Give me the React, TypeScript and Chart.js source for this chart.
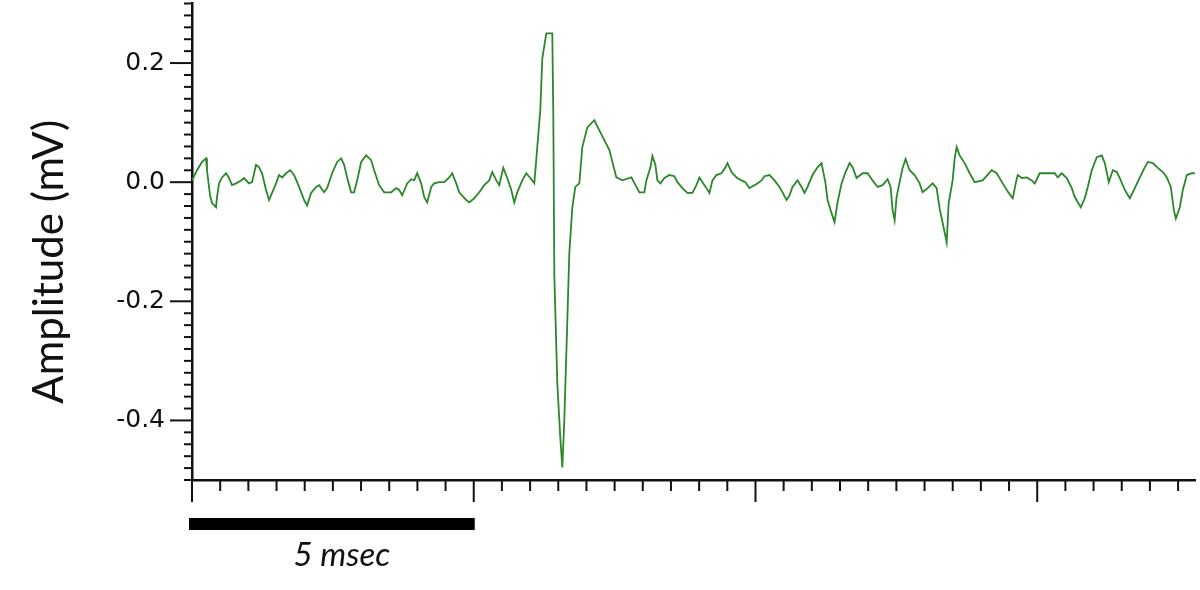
import React, { useEffect, useRef } from "react";
import { Chart, registerables } from "chart.js";

Chart.register(...registerables);

// Time (ms) and amplitude (mV) samples
const TIME_MS = [
  0, 0.089, 0.178, 0.249, 0.266, 0.32, 0.355, 0.426, 0.444, 0.48, 0.533, 0.604, 0.657, 0.71, 0.782, 0.87, 0.924,
  1.012, 1.066, 1.137, 1.19, 1.243, 1.314, 1.368, 1.421, 1.492, 1.545, 1.599, 1.67, 1.741, 1.812, 1.901, 1.989,
  2.043, 2.114, 2.202, 2.256, 2.345, 2.398, 2.487, 2.575, 2.647, 2.7, 2.753, 2.824, 2.877, 2.931, 3.002, 3.091,
  3.179, 3.233, 3.321, 3.41, 3.535, 3.623, 3.677, 3.73, 3.819, 3.89, 3.943, 3.996, 4.067, 4.121, 4.174, 4.245,
  4.298, 4.387, 4.476, 4.565, 4.618, 4.689, 4.742, 4.867, 4.92, 5.009, 5.098, 5.187, 5.275, 5.329, 5.4, 5.453,
  5.524, 5.595, 5.666, 5.719, 5.773, 5.861, 5.932, 6.004, 6.075, 6.128, 6.181, 6.217, 6.288, 6.394, 6.412, 6.43,
  6.483, 6.536, 6.572, 6.607, 6.661, 6.696, 6.75, 6.803, 6.874, 6.927, 7.016, 7.14, 7.229, 7.407, 7.531, 7.638,
  7.797, 7.94, 8.028, 8.064, 8.135, 8.171, 8.224, 8.259, 8.313, 8.384, 8.472, 8.561, 8.615, 8.703, 8.792, 8.881,
  8.952, 9.005, 9.059, 9.13, 9.183, 9.236, 9.307, 9.396, 9.467, 9.503, 9.574, 9.663, 9.751, 9.822, 9.893, 9.982,
  10.036, 10.107, 10.16, 10.249, 10.337, 10.426, 10.48, 10.551, 10.604, 10.657, 10.746, 10.817, 10.87, 10.924,
  11.012, 11.101, 11.172, 11.243, 11.279, 11.35, 11.403, 11.456, 11.528, 11.599, 11.67, 11.723, 11.794, 11.901,
  11.989, 12.078, 12.167, 12.256, 12.345, 12.398, 12.433, 12.469, 12.504, 12.558, 12.611, 12.664, 12.735, 12.824,
  12.913, 12.966, 13.055, 13.144, 13.215, 13.268, 13.339, 13.393, 13.428, 13.499, 13.535, 13.57, 13.623, 13.712,
  13.801, 13.89, 14.032, 14.192, 14.281, 14.387, 14.494, 14.565, 14.618, 14.654, 14.725, 14.814, 14.902, 14.956,
  15.044, 15.168, 15.311, 15.364, 15.435, 15.524, 15.613, 15.666, 15.773, 15.844, 15.897, 15.968, 16.057, 16.146,
  16.199, 16.27, 16.341, 16.412, 16.465, 16.554, 16.643, 16.732, 16.821, 16.909, 16.963, 17.052, 17.14, 17.229,
  17.3, 17.371, 17.425, 17.46, 17.531, 17.584, 17.655, 17.744, 17.797,
];

const AMPLITUDE_MV = [
  0.003, 0.02, 0.034, 0.04, 0.02, -0.022, -0.035, -0.042, -0.025, -0.002, 0.008, 0.015, 0.007, -0.005, -0.002,
  0.003, 0.007, -0.002, 0.0, 0.029, 0.025, 0.015, -0.013, -0.03, -0.018, -0.002, 0.012, 0.008, 0.015, 0.02, 0.012,
  -0.008, -0.03, -0.039, -0.018, -0.008, -0.005, -0.017, -0.01, 0.015, 0.034, 0.04, 0.029, 0.008, -0.017, -0.017,
  0.003, 0.034, 0.045, 0.037, 0.02, -0.005, -0.017, -0.017, -0.01, -0.013, -0.022, -0.002, 0.005, 0.003, 0.015,
  -0.002, -0.025, -0.034, -0.008, -0.002, 0.0, 0.0, 0.008, 0.015, -0.002, -0.017, -0.03, -0.034, -0.027, -0.017,
  -0.005, 0.003, 0.017, 0.003, -0.005, 0.024, 0.007, -0.013, -0.034, -0.017, 0.003, 0.015, 0.007, -0.002, 0.059,
  0.121, 0.208, 0.25, 0.25, 0.113, -0.156, -0.338, -0.429, -0.479, -0.4, -0.232, -0.119, -0.042, -0.008, -0.002,
  0.059, 0.092, 0.104, 0.087, 0.054, 0.008, 0.003, 0.008, -0.017, -0.017, 0.003, 0.025, 0.044, 0.029, 0.003,
  -0.002, 0.007, 0.012, 0.01, 0.0, -0.01, -0.018, -0.018, -0.005, 0.008, 0.0, -0.01, -0.018, 0.003, 0.012, 0.015,
  0.025, 0.032, 0.017, 0.008, 0.003, 0.0, -0.01, -0.005, -0.002, 0.003, 0.01, 0.012, 0.003, -0.008, -0.017, -0.03,
  -0.022, -0.008, 0.003, -0.008, -0.018, -0.008, 0.012, 0.025, 0.032, -0.002, -0.03, -0.052, -0.067, -0.034,
  -0.002, 0.017, 0.032, 0.025, 0.007, 0.015, 0.015, 0.003, -0.008, -0.005, 0.005, -0.008, -0.047, -0.064, -0.025,
  0.0, 0.024, 0.039, 0.02, 0.012, -0.002, -0.017, -0.01, -0.002, -0.01, -0.044, -0.076, -0.101, -0.035, 0.003,
  0.04, 0.059, 0.045, 0.032, 0.015, 0.0, 0.003, 0.02, 0.015, -0.002, -0.018, -0.027, -0.002, 0.012, 0.007, 0.008,
  0.003, -0.002, 0.015, 0.015, 0.015, 0.008, 0.015, 0.007, -0.01, -0.025, -0.042, -0.027, -0.008, 0.02, 0.042,
  0.045, 0.032, 0.0, 0.02, 0.017, 0.007, -0.013, -0.027, -0.01, 0.008, 0.025, 0.034, 0.032, 0.024, 0.017, 0.008,
  -0.008, -0.047, -0.061, -0.042, -0.013, 0.012, 0.015, 0.015,
];

// Axis ranges and tick spacing
const X_MIN_MS = 0;
const X_MAX_MS = 17.8;
const X_MINOR_STEP_MS = 0.5;
const X_MAJOR_STEP_MS = 5;
const Y_MIN_MV = -0.5;
const Y_MAX_MV = 0.3;
const Y_MINOR_STEP_MV = 0.02;
const Y_MAJOR_STEP_MV = 0.2;

const Y_TITLE = "Amplitude (mV)";
const SCALE_BAR_MS = 5;
const SCALE_BAR_LABEL = "5 msec";

const isMultiple = (v: number, step: number) => Math.abs(v / step - Math.round(v / step)) < 1e-6;

const axisDecor = {
  id: "axisDecor",
  afterDraw(chart: any) {
    const { ctx, chartArea } = chart;
    const xs = chart.scales.x;
    const ys = chart.scales.y;
    ctx.save();
    ctx.strokeStyle = "#111";
    ctx.lineWidth = 2;
    ctx.lineCap = "butt";
    // x ticks (pointing down)
    xs.ticks.forEach((t: any) => {
      const px = xs.getPixelForValue(t.value);
      const len = isMultiple(t.value, X_MAJOR_STEP_MS) ? 22 : 11;
      ctx.beginPath();
      ctx.moveTo(px, chartArea.bottom);
      ctx.lineTo(px, chartArea.bottom + len);
      ctx.stroke();
    });
    // y ticks (pointing left)
    ys.ticks.forEach((t: any) => {
      const py = ys.getPixelForValue(t.value);
      const len = isMultiple(t.value, Y_MAJOR_STEP_MV) ? 22 : 8;
      ctx.beginPath();
      ctx.moveTo(chartArea.left, py);
      ctx.lineTo(chartArea.left - len, py);
      ctx.stroke();
    });
    // scale bar
    const x0 = xs.getPixelForValue(0);
    const x1 = xs.getPixelForValue(SCALE_BAR_MS);
    ctx.fillStyle = "#000";
    ctx.fillRect(x0 - 3, chartArea.bottom + 38, x1 - x0 + 4, 12);
    ctx.font = "italic 33px Lato";
    ctx.textAlign = "center";
    ctx.textBaseline = "alphabetic";
    ctx.fillStyle = "#111";
    ctx.fillText(SCALE_BAR_LABEL, (x0 + x1) / 2 + 9, chartArea.bottom + 86);
    // y axis title
    ctx.translate(63, (chartArea.top + chartArea.bottom) / 2 + 20);
    ctx.rotate(-Math.PI / 2);
    ctx.font = "42px Lato";
    ctx.fillStyle = "#111";
    ctx.fillText(Y_TITLE, 0, 0);
    ctx.restore();
  },
};

export default function App() {
  const ref = useRef<HTMLCanvasElement | null>(null);
  useEffect(() => {
    let chart: Chart | null = null;
    let cancelled = false;
    const make = () => {
      if (cancelled || !ref.current) return;
      const data = TIME_MS.map((t, i) => ({ x: t, y: AMPLITUDE_MV[i] }));
      chart = new Chart(ref.current, {
        type: "line",
        data: {
          datasets: [
            {
              data,
              borderColor: "#2a872a",
              borderWidth: 1.8,
              pointRadius: 0,
              tension: 0,
              fill: false,
            },
          ],
        },
        options: {
          animation: false,
          responsive: false,
          devicePixelRatio: 1,
          layout: { padding: { top: 3.5, right: 5, left: 0, bottom: 0 } },
          plugins: { legend: { display: false }, tooltip: { enabled: false } },
          scales: {
            x: {
              type: "linear",
              min: X_MIN_MS,
              max: X_MAX_MS,
              grid: { display: false, drawTicks: false },
              border: { display: true, color: "#111", width: 2.5 },
              ticks: { display: false, stepSize: X_MINOR_STEP_MS, includeBounds: false, autoSkip: false },
              afterFit: (s: any) => {
                s.height = 110;
                s.paddingLeft = 0;
                s.paddingRight = 0;
              },
            },
            y: {
              type: "linear",
              min: Y_MIN_MV,
              max: Y_MAX_MV,
              grid: { display: false, drawTicks: false },
              border: { display: true, color: "#111", width: 2.5 },
              ticks: {
                stepSize: Y_MINOR_STEP_MV,
                autoSkip: false,
                padding: 27,
                color: "#111",
                font: { family: "DejaVu Sans", size: 25 },
                callback: (v: any) => (isMultiple(Number(v), Y_MAJOR_STEP_MV) ? Number(v).toFixed(1) : ""),
              },
              afterFit: (s: any) => {
                s.width = 192;
                s.paddingTop = 0;
                s.paddingBottom = 0;
              },
            },
          },
        },
        plugins: [axisDecor],
      });
    };
    const fonts = (document as any).fonts;
    if (fonts && fonts.load) {
      Promise.all([fonts.load("42px Lato"), fonts.load("italic 33px Lato"), fonts.load("25px 'DejaVu Sans'")])
        .catch(() => null)
        .then(make);
    } else {
      make();
    }
    return () => {
      cancelled = true;
      if (chart) chart.destroy();
    };
  }, []);
  return (
    <div style={{ position: "fixed", left: 0, top: 0, width: 1200, height: 590, background: "#fff" }}>
      <canvas ref={ref} width={1200} height={590} style={{ width: 1200, height: 590 }} />
    </div>
  );
}
